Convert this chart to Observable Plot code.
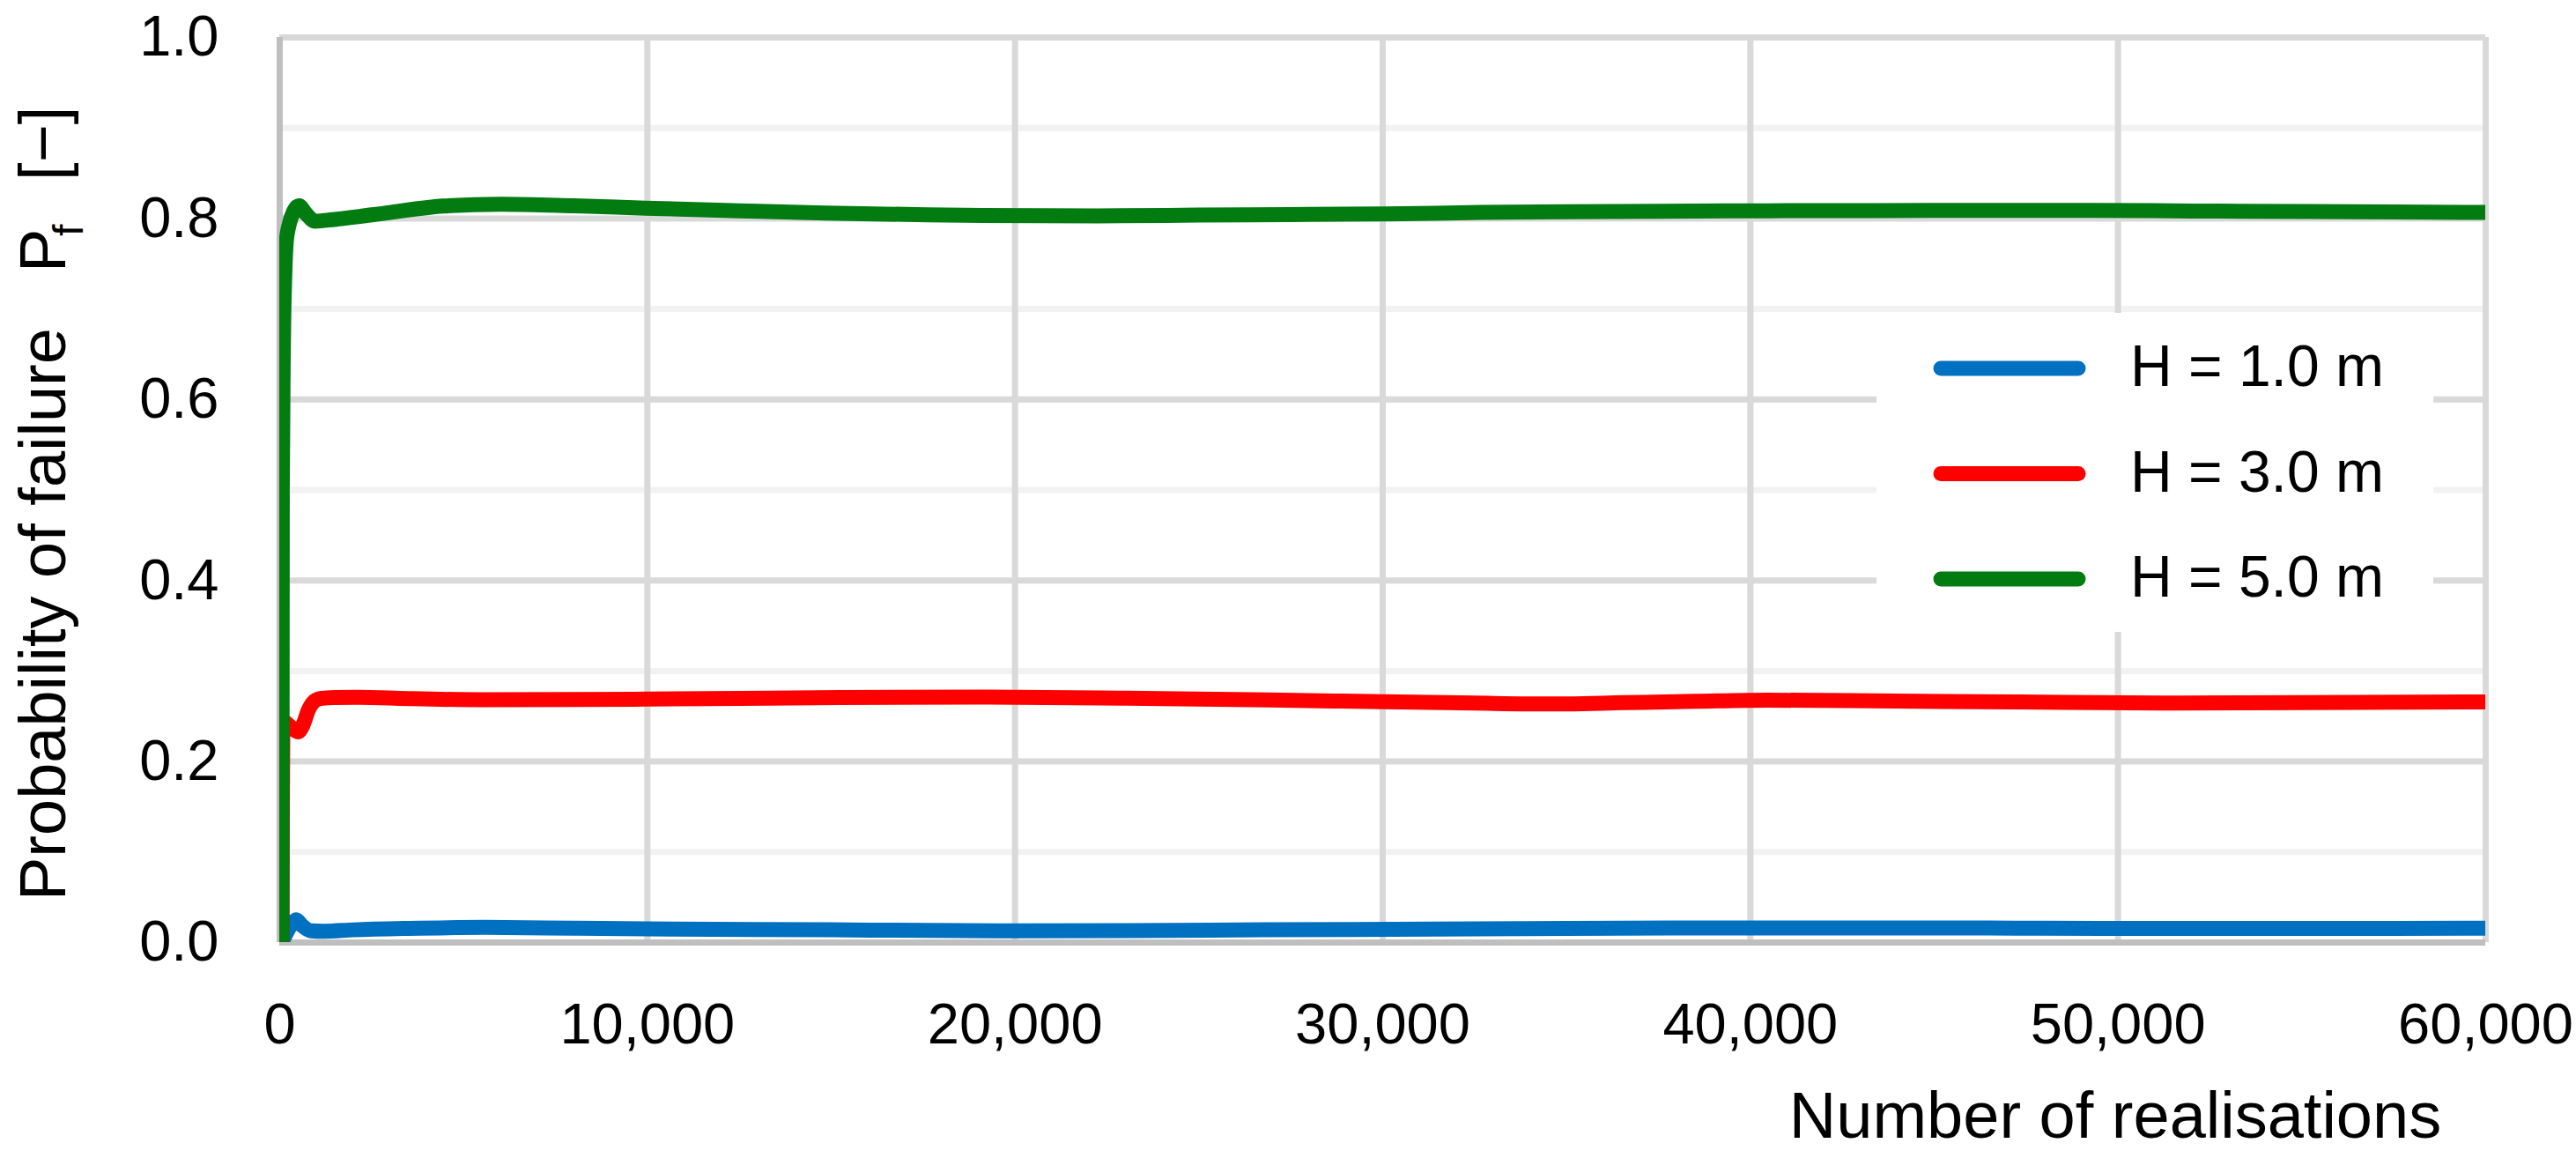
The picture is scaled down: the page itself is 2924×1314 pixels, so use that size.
<!DOCTYPE html>
<html>
<head>
<meta charset="utf-8">
<script src="https://cdn.jsdelivr.net/npm/d3@7"></script>
<script src="https://cdn.jsdelivr.net/npm/@observablehq/plot@0.6"></script>
<style>
  html, body { margin: 0; padding: 0; background: #ffffff; }
  #chart svg { display: block; }
</style>
</head>
<body>
<div id="chart"></div>
<script>
// ---------------- data ----------------
const seriesNames = ["H = 1.0 m", "H = 3.0 m", "H = 5.0 m"];

const nH1 = [60, 200, 350, 450, 600, 850, 1200, 2000, 3500, 5600, 8000, 10000, 15000, 20000, 23000, 26700, 32500, 38400, 46000, 50000, 55000, 60000];
const pH1 = [0, 0.012, 0.022, 0.025, 0.019, 0.013, 0.0125, 0.014, 0.0156, 0.0167, 0.0158, 0.0151, 0.014, 0.013, 0.0132, 0.014, 0.015, 0.016, 0.016, 0.0155, 0.0156, 0.0158];

const nH3 = [60, 90, 250, 500, 650, 765, 900, 1100, 1500, 2130, 3500, 5450, 8000, 9950, 12500, 15220, 19120, 23040, 26940, 30000, 32500, 34620, 36580, 38500, 40480, 44000, 47320, 51220, 55120, 60000];
const pH3 = [0, 0.245, 0.240, 0.2327, 0.242, 0.2554, 0.265, 0.2695, 0.2708, 0.2710, 0.2695, 0.2683, 0.2684, 0.2689, 0.2698, 0.2707, 0.2712, 0.2699, 0.268, 0.266, 0.2645, 0.2636, 0.265, 0.2665, 0.2678, 0.2668, 0.2658, 0.2645, 0.2652, 0.2658];

const nH5 = [60, 70, 100, 140, 180, 250, 380, 526, 700, 960, 1500, 2510, 4470, 6030, 8000, 9950, 12500, 14830, 17000, 19120, 22250, 24980, 27500, 30050, 32650, 35000, 37560, 40500, 43400, 46500, 49260, 52000, 55120, 57500, 60000];
const pH5 = [0, 0.50, 0.66, 0.74, 0.775, 0.792, 0.808, 0.814, 0.806, 0.797, 0.799, 0.804, 0.8137, 0.8158, 0.814, 0.8114, 0.8085, 0.806, 0.8045, 0.8033, 0.8028, 0.8037, 0.8043, 0.805, 0.8066, 0.8075, 0.808, 0.8085, 0.8087, 0.8089, 0.8089, 0.8083, 0.8076, 0.8071, 0.8066];

const xTicks = [0, 10000, 20000, 30000, 40000, 50000, 60000];
const yTicks = [0, 0.2, 0.4, 0.6, 0.8, 1.0];
const yMinorTicks = [0.1, 0.3, 0.5, 0.7, 0.9];
const xGridTicks = [10000, 20000, 30000, 40000, 50000, 60000];
const yGridTicks = [0.2, 0.4, 0.6, 0.8, 1.0];

const xTitle = "Number of realisations";
const yTitleMain = "Probability of failure";
const yTitleSymbol = "P";
const yTitleSub = "f";
const yTitleUnit = "[\u2212]";

// ---------------- styles ----------------
const colors = ["#0070C0", "#FF0000", "#027B10"];
const FONT = "'Liberation Sans', Arial, Helvetica, sans-serif";

const seriesN = [nH1, nH3, nH5];
const seriesP = [pH1, pH3, pH5];
const rows = seriesNames.map((name, i) => seriesN[i].map((n, j) => ({series: name, n, p: seriesP[i][j]})));

const chart = Plot.plot({
  width: 2924,
  height: 1314,
  marginLeft: 317,
  marginRight: 103,
  marginTop: 42,
  marginBottom: 245,
  style: {fontFamily: FONT, fontSize: "65px", background: "#ffffff", color: "#000000", overflow: "visible"},
  x: {domain: [0, 60000]},
  y: {domain: [0, 1]},
  marks: [
    Plot.gridY(yMinorTicks, {stroke: "#f2f2f2", strokeOpacity: 1, strokeWidth: 7}),
    Plot.gridY(yGridTicks, {stroke: "#d9d9d9", strokeOpacity: 1, strokeWidth: 7}),
    Plot.gridX(xGridTicks, {stroke: "#d9d9d9", strokeOpacity: 1, strokeWidth: 7}),
    Plot.ruleX([0], {stroke: "#bfbfbf", strokeWidth: 7}),
    Plot.ruleY([0], {stroke: "#bfbfbf", strokeWidth: 7}),
    Plot.axisX(xTicks, {tickSize: 0, tickPadding: 68, tickFormat: d3.format(","), label: null, fill: "#000000"}),
    Plot.axisY(yTicks, {tickSize: 0, tickPadding: 69, tickFormat: d3.format(".1f"), label: null, fill: "#000000"}),
    ...rows.map((data, i) => Plot.line(data, {
      x: "n", y: "p", stroke: colors[i], strokeWidth: 17,
      curve: "monotone-x", strokeLinecap: "round", strokeLinejoin: "round", clip: "frame"
    }))
  ]
});

document.getElementById("chart").appendChild(chart);

// ---------------- titles and legend ----------------
const svg = d3.select(chart);

// x-axis title
svg.append("text")
  .attr("x", 2401).attr("y", 1291)
  .attr("text-anchor", "middle")
  .attr("font-family", FONT).attr("font-size", 74).attr("fill", "#000")
  .text(xTitle);

// y-axis title with subscript
const yt = svg.append("text")
  .attr("transform", "translate(74,1022) rotate(-90)")
  .attr("text-anchor", "start")
  .attr("font-family", FONT).attr("font-size", 74).attr("fill", "#000");
yt.append("tspan").attr("x", 0).attr("y", 0).attr("text-anchor", "start").text(yTitleMain);
yt.append("tspan").attr("x", 713).attr("y", 0).attr("text-anchor", "start").text(yTitleSymbol);
yt.append("tspan").attr("x", 754).attr("y", 20).attr("text-anchor", "start").attr("font-size", 48).text(yTitleSub);
yt.append("tspan").attr("x", 817).attr("y", 0).attr("text-anchor", "start").text(yTitleUnit);

// legend
const lg = svg.append("g");
lg.append("rect").attr("x", 2130).attr("y", 355).attr("width", 632).attr("height", 362).attr("fill", "#ffffff");
seriesNames.forEach((name, i) => {
  const cy = 418 + i * 119.5;
  lg.append("line")
    .attr("x1", 2203).attr("x2", 2359).attr("y1", cy).attr("y2", cy)
    .attr("stroke", colors[i]).attr("stroke-width", 17).attr("stroke-linecap", "round");
  lg.append("text")
    .attr("x", 2418).attr("y", cy + 20)
    .attr("text-anchor", "start")
    .attr("font-family", FONT).attr("font-size", 66).attr("fill", "#000")
    .text(name);
});
</script>
</body>
</html>
